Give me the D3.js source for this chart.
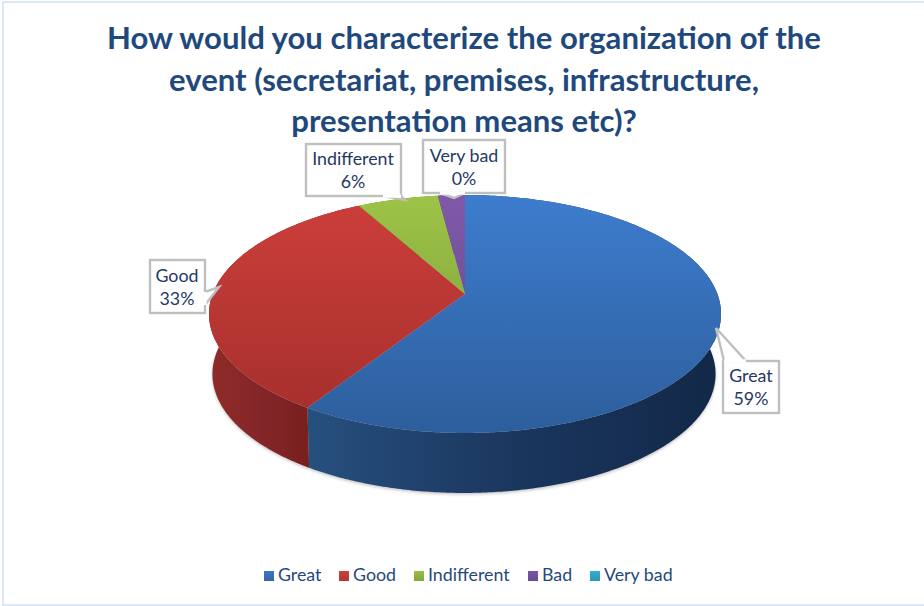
<!DOCTYPE html>
<html>
<head>
<meta charset="utf-8">
<script src="https://cdn.jsdelivr.net/npm/d3@7/dist/d3.min.js"></script>
<style>
  html, body { margin: 0; padding: 0; background: #fff; }
  svg { display: block; font-family: Lato, "Open Sans", sans-serif; }
</style>
</head>
<body>
<svg id="chart" width="924" height="606"></svg>
<script>
// Survey answers
const categories = ["Great", "Good", "Indifferent", "Bad", "Very bad"];
const shares = [59, 33, 6, 2, 0];
const labelled = ["Great", "Good", "Indifferent", "Very bad"];
const titleLines = [
  "How would you characterize the organization of the",
  "event (secretariat, premises, infrastructure,",
  "presentation means etc)?"
];

// Per-category paint: top gradient, legend swatch
const topStart = ["#3d7dce", "#cd3f3b", "#9dc447", "#8059aa", "#31a6c8"];
const topEnd = ["#2d5e9c", "#a32e2b", "#76963a", "#5f4580", "#257f9a"];
const swatch = ["#3a6db2", "#c03a37", "#8fb040", "#714f9b", "#2fa2c3"];
const wallStops = [
  ["#27507f", "#1b3860", "#13294a"],
  ["#8f2b27", "#84262a", "#7a201e"],
  ["#6e8a33", "#6e8a33", "#6e8a33"],
  ["#553d73", "#553d73", "#553d73"],
  ["#1f7086", "#1f7086", "#1f7086"]
];

const svg = d3.select("#chart");
const defs = svg.append("defs");

// Chart-area frame
svg.append("rect").attr("x", 3).attr("y", 2).attr("width", 930).attr("height", 603)
  .attr("fill", "#fff").attr("stroke", "#dce8f7").attr("stroke-width", 2);

// Tilted disc: a unit circle seen in perspective
const tilt = 0.168;
const topDisc = { x: 465, y: 294, a: 252.4, b: 115.6 };
const baseDisc = { x: 464, y: 354, a: 248, b: 115.6 };
function project(disc, angle) {
  const u = Math.sin(angle), v = -Math.cos(angle), w = 1 - tilt * v;
  return [disc.x + disc.a * u / w, disc.y + disc.b * v / w];
}
function arcPoints(disc, start, end) {
  const n = Math.max(2, Math.ceil((end - start) / 0.01));
  return d3.range(n + 1).map(i => project(disc, start + (end - start) * i / n));
}
const line = d3.line();

const slices = d3.pie().sort(null).value(d => d)(shares);

// Gradients
categories.forEach((c, i) => {
  const top = defs.append("linearGradient").attr("id", "top" + i)
    .attr("gradientUnits", "userSpaceOnUse").attr("x1", 0).attr("x2", 0).attr("y1", 195).attr("y2", 433);
  top.append("stop").attr("offset", 0).attr("stop-color", topStart[i]);
  top.append("stop").attr("offset", 1).attr("stop-color", topEnd[i]);
  const wall = defs.append("linearGradient").attr("id", "wall" + i)
    .attr("gradientUnits", "userSpaceOnUse").attr("x1", i === 1 ? 210 : 302).attr("x2", i === 1 ? 305 : 700).attr("y1", 0).attr("y2", 0);
  wallStops[i].forEach((col, k) => wall.append("stop").attr("offset", k / 2).attr("stop-color", col));
  const sw = defs.append("linearGradient").attr("id", "sw" + i).attr("x1", 0).attr("x2", 0).attr("y1", 0).attr("y2", 1);
  sw.append("stop").attr("offset", 0).attr("stop-color", d3.color(swatch[i]).brighter(0.2));
  sw.append("stop").attr("offset", 1).attr("stop-color", d3.color(swatch[i]).darker(0.2));
});
defs.append("filter").attr("id", "soft").attr("x", "-10%").attr("y", "-10%").attr("width", "120%").attr("height", "120%")
  .append("feGaussianBlur").attr("stdDeviation", 1.8);

// Soft shadow below the disc
const fullBase = arcPoints(baseDisc, 0, 2 * Math.PI);
svg.append("path").attr("d", line(fullBase) + "Z")
  .attr("transform", "translate(0,1.5)")
  .attr("fill", "#888").attr("opacity", 0.5).attr("filter", "url(#soft)");

// Side walls
svg.append("g").selectAll("path").data(slices).join("path")
  .attr("d", d => {
    const up = arcPoints(topDisc, d.startAngle, d.endAngle);
    const down = arcPoints(baseDisc, d.startAngle, d.endAngle).reverse();
    return line(up.concat(down)) + "Z";
  })
  .attr("fill", (d, i) => `url(#wall${i})`);

// Top faces
svg.append("g").selectAll("path").data(slices).join("path")
  .attr("d", d => line([[topDisc.x, topDisc.y], ...arcPoints(topDisc, d.startAngle, d.endAngle)]) + "Z")
  .attr("fill", (d, i) => `url(#top${i})`);

// Title
svg.append("g").selectAll("text").data(titleLines).join("text")
  .attr("x", 464)
  .attr("y", (d, i) => [49, 91, 132][i])
  .attr("text-anchor", "middle")
  .attr("font-size", 31.1)
  .attr("font-weight", 700)
  .attr("fill", "#1f497d")
  .text(d => d);

// Callouts: box, pointer tip, pointer base on the box edge
const callouts = {
  "Great": { box: [723, 361, 56, 52], tip: [716, 328], base: [[724, 361], [746, 361]], text: [751, 382] },
  "Good": { box: [150, 260, 55, 53], tip: [219, 287], base: [[205, 292], [205, 305]], text: [177, 282] },
  "Indifferent": { box: [306, 144, 95, 52], tip: [405, 200], base: [[383, 196], [401, 196]], text: [353, 165] },
  "Very bad": { box: [423, 140, 82, 53], tip: [454, 198], base: [[440, 193], [465, 193]], text: [464, 162] }
};
const labelGroup = svg.append("g");
labelled.forEach(name => {
  const c = callouts[name];
  const [x, y, w, h] = c.box;
  const value = shares[categories.indexOf(name)];
  const g = labelGroup.append("g");
  g.append("rect").attr("x", x).attr("y", y).attr("width", w).attr("height", h)
    .attr("fill", "#fff").attr("stroke", "#bfbfbf").attr("stroke-width", 2.4);
  g.append("path").attr("d", line([c.base[0], c.tip, c.base[1]]))
    .attr("fill", "#fff").attr("stroke", "#bfbfbf").attr("stroke-width", 2.4);
  // hide the box edge underneath the pointer's mouth
  g.append("path").attr("d", line(c.base)).attr("stroke", "#fff").attr("stroke-width", 3.4);
  g.selectAll("text").data([name, value + "%"]).join("text")
    .attr("x", c.text[0])
    .attr("y", (d, i) => c.text[1] + i * 23)
    .attr("text-anchor", "middle")
    .attr("font-size", 17.8)
    .attr("fill", "#1f3864")
    .text(d => d);
});

// Legend
const legendX = [264, 339, 414, 528, 590];
const legend = svg.append("g").selectAll("g").data(categories).join("g")
  .attr("transform", (d, i) => `translate(${legendX[i]},571)`);
legend.append("rect").attr("width", 10).attr("height", 10).attr("fill", (d, i) => `url(#sw${i})`);
legend.append("text").attr("x", 14).attr("y", 10)
  .attr("font-size", 17.8).attr("fill", "#1f497d").text(d => d);
</script>
</body>
</html>
